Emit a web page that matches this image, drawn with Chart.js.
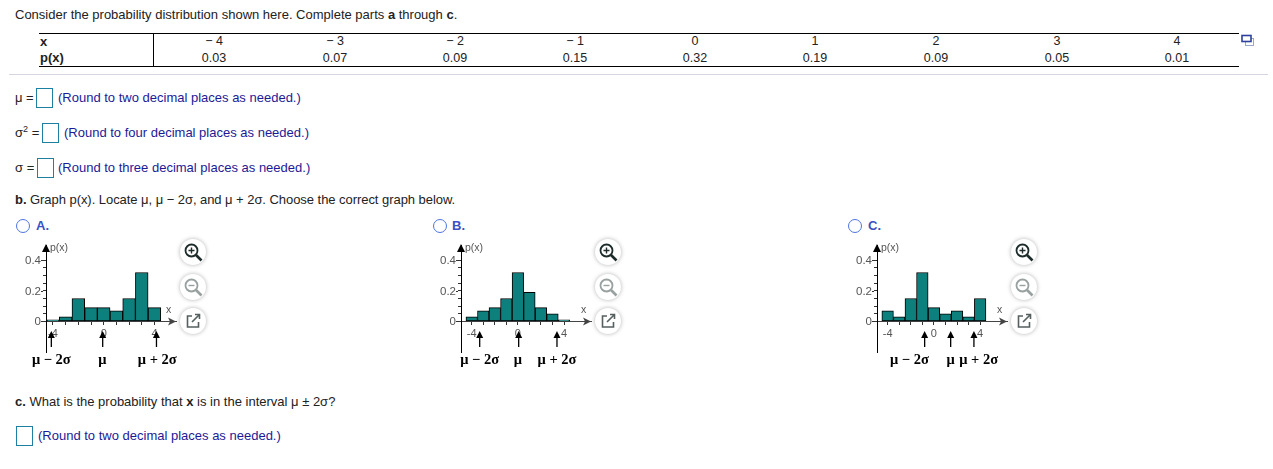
<!DOCTYPE html>
<html>
<head>
<meta charset="utf-8">
<script src="https://cdn.jsdelivr.net/npm/chart.js@4"></script>
<style>
html, body { margin: 0; padding: 0; background: #fff; }
body { position: relative; width: 1273px; height: 469px; overflow: hidden; font: 13px "Liberation Sans", Arial, sans-serif; color: #222; }
.t { position: absolute; white-space: nowrap; line-height: 16px; }
.hint { color: #1c1a96; }
.box { position: absolute; border: 1.5px solid #1f7fa3; box-sizing: border-box; width: 17px; height: 20px; background: #fff; }
.rule { position: absolute; background: #000; }
.cell { position: absolute; transform: translateX(-50%); white-space: nowrap; line-height: 14px; font-size: 12.5px; }
.radio { position: absolute; width: 14px; height: 14px; border: 1.5px solid #4f74e3; border-radius: 50%; box-sizing: border-box; }
.choice { position: absolute; font-weight: bold; color: #3d50c4; line-height: 16px; }
canvas { position: absolute; }
.icon { position: absolute; width: 26px; height: 26px; border-radius: 50%; background: #fff; box-shadow: 0 0 4px rgba(0,0,0,.3); }
.icon svg { display: block; }
sup { font-size: 9px; line-height: 0; }
</style>
</head>
<body>

<div class="t" style="left:15px;top:7px">Consider the probability distribution shown here. Complete parts <b>a</b> through <b>c</b>.</div>

<div class="rule" style="left:39px;top:33px;width:1200px;height:1px"></div>
<div class="rule" style="left:39px;top:66px;width:1200px;height:1px"></div>
<div class="rule" style="left:153px;top:33px;width:1px;height:34px"></div>
<div class="t" style="left:40px;top:34px"><b>x</b></div>
<div class="t" style="left:40px;top:50px"><b>p(x)</b></div>
<div class="rule" style="left:9px;top:74px;width:1259px;height:1px;background:#d5d6e2"></div>
<div id="tableCells"></div>

<svg style="position:absolute;left:1241px;top:34px" width="14" height="14">
  <rect x="4.5" y="4.5" width="8" height="7" fill="none" stroke="#9aa6d0"/>
  <rect x="1" y="1.5" width="9" height="6" fill="#fff" stroke="#2f3f9e" stroke-width="1.6"/>
</svg>

<div class="t" style="left:15px;top:90px">μ =</div>
<div class="box" style="left:36px;top:88px"></div>
<div class="t hint" style="left:58px;top:90px">(Round to two decimal places as needed.)</div>

<div class="t" style="left:15px;top:125px">σ<sup>2</sup> =</div>
<div class="box" style="left:42px;top:123px"></div>
<div class="t hint" style="left:64px;top:125px">(Round to four decimal places as needed.)</div>

<div class="t" style="left:15px;top:160px">σ =</div>
<div class="box" style="left:37px;top:158px"></div>
<div class="t hint" style="left:58px;top:160px">(Round to three decimal places as needed.)</div>

<div class="t" style="left:15px;top:192px;letter-spacing:-0.05px"><b>b.</b> Graph p(x). Locate μ, μ − 2σ, and μ + 2σ. Choose the correct graph below.</div>

<div class="radio" style="left:16px;top:219px"></div><div class="choice" style="left:36px;top:218px">A.</div>
<div class="radio" style="left:433px;top:219px"></div><div class="choice" style="left:452px;top:218px">B.</div>
<div class="radio" style="left:848px;top:219px"></div><div class="choice" style="left:868px;top:218px">C.</div>

<canvas id="chartA" width="165" height="132" style="left:16px;top:240px"></canvas>
<canvas id="chartB" width="165" height="132" style="left:431px;top:240px"></canvas>
<canvas id="chartC" width="165" height="132" style="left:847px;top:240px"></canvas>
<div id="iconRows"></div>

<div class="t" style="left:15px;top:394px"><b>c.</b> What is the probability that <b>x</b> is in the interval μ ± 2σ?</div>
<div class="box" style="left:16px;top:426px"></div>
<div class="t hint" style="left:38px;top:428px">(Round to two decimal places as needed.)</div>

<script>
const xValues = [-4, -3, -2, -1, 0, 1, 2, 3, 4];
const xText = ['− 4', '− 3', '− 2', '− 1', '0', '1', '2', '3', '4'];
const pValues = ['0.03', '0.07', '0.09', '0.15', '0.32', '0.19', '0.09', '0.05', '0.01'];

const barsA = [0.01, 0.03, 0.15, 0.09, 0.09, 0.07, 0.15, 0.32, 0.09];
const barsB = [0.03, 0.07, 0.09, 0.15, 0.32, 0.19, 0.09, 0.05, 0.01];
const barsC = [0.07, 0.03, 0.15, 0.32, 0.09, 0.05, 0.07, 0.03, 0.15];

const arrowsA = [-4.13, -0.08, 4.16];
const arrowsB = [-3.31, 0.07, 3.39];
const arrowsC = [-0.8, 1.45, 3.46];

const captions = ['μ − 2σ', 'μ', 'μ + 2σ'];
const captionsA = [-4.13, -0.1, 4.22];
const captionsB = [-3.31, 0, 3.39];
const captionsC = [-2.12, 1.45, 3.87];

const xRangeA = [-4.55, 5.7];
const xRangeB = [-4.93, 6.34];
const xRangeC = [-4.92, 6.32];

const xTickLabels = [-4, 0, 4];
const yTicks = [0, 0.05, 0.1, 0.15, 0.2, 0.25, 0.3, 0.35, 0.4];
const yTickLabels = [0, 0.2, 0.4];

const columnCenters = [214, 335, 455, 575, 695, 815, 936, 1057, 1177];

// tabla de arriba
const tableCells = document.getElementById('tableCells');
xValues.forEach((x, i) => {
    tableCells.innerHTML += `<div class="cell" style="left:${columnCenters[i]}px;top:34px">${xText[i]}</div>`;
    tableCells.innerHTML += `<div class="cell" style="left:${columnCenters[i]}px;top:51px">${pValues[i]}</div>`;
});

// flechas, textos y puntas de los ejes
const extrasPlugin = {
    id: 'extras',
    afterDraw(chart, args, opts) {
        const { ctx, scales: { x, y } } = chart;
        const x0 = x.getPixelForValue(opts.range[0]);
        const x1 = x.getPixelForValue(opts.range[1]);
        const y0 = Math.round(y.getPixelForValue(0));
        ctx.save();

        // etiquetas y marcas mayores del eje y
        ctx.strokeStyle = '#333';
        ctx.fillStyle = '#555';
        ctx.lineWidth = 1;
        ctx.font = '11.5px "Liberation Sans"';
        ctx.textAlign = 'right';
        ctx.textBaseline = 'middle';
        yTickLabels.forEach(v => {
            const py = Math.round(y.getPixelForValue(v)) + 0.5;
            ctx.beginPath();
            ctx.moveTo(Math.round(x0) - 5, py);
            ctx.lineTo(Math.round(x0) - 3, py);
            ctx.stroke();
            ctx.fillText(String(v), Math.round(x0) - 5, py);
        });

        // punta eje y
        ctx.fillStyle = '#000';
        const top = y.getPixelForValue(0.5);
        ctx.beginPath();
        ctx.moveTo(x0, top - 1);
        ctx.lineTo(x0 - 4, top + 7);
        ctx.lineTo(x0 + 4, top + 7);
        ctx.fill();

        // punta eje x
        ctx.fillStyle = '#444';
        ctx.beginPath();
        ctx.moveTo(x1, y0 + 0.5);
        ctx.lineTo(x1 - 8, y0 - 3.5);
        ctx.lineTo(x1 - 6, y0 + 0.5);
        ctx.lineTo(x1 - 8, y0 + 4.5);
        ctx.fill();

        // etiquetas de los ejes
        ctx.fillStyle = '#555';
        ctx.font = '10.5px "Liberation Sans"';
        ctx.textAlign = 'left';
        ctx.fillText('p(x)', x0 + 4, top + 3);
        ctx.fillText('x', x1 - 10, y0 - 11);

        // flechas mu y sigma
        ctx.strokeStyle = '#000';
        ctx.fillStyle = '#000';
        ctx.lineWidth = 1.3;
        opts.arrows.forEach(v => {
            const px = x.getPixelForValue(v);
            ctx.beginPath();
            ctx.moveTo(px, y0 + 26);
            ctx.lineTo(px, y0 + 14);
            ctx.stroke();
            ctx.beginPath();
            ctx.moveTo(px, y0 + 10);
            ctx.lineTo(px - 3.5, y0 + 17);
            ctx.lineTo(px + 3.5, y0 + 17);
            ctx.fill();
        });

        ctx.font = 'bold 14.5px "Liberation Serif"';
        ctx.textAlign = 'center';
        opts.captions.forEach((v, i) => {
            ctx.fillText(captions[i], x.getPixelForValue(v), y0 + 39);
        });
        ctx.restore();
    }
};

const makeChart = (id, bars, range, arrows, captionX) => new Chart(document.getElementById(id), {
    type: 'bar',
    data: {
        datasets: [{
            data: xValues.map((x, i) => ({ x: x, y: bars[i] })),
            backgroundColor: '#0d7f7d',
            borderColor: '#000',
            borderWidth: 1,
            borderSkipped: false,
            barPercentage: 1,
            categoryPercentage: 1
        }]
    },
    options: {
        responsive: false,
        animation: false,
        layout: { padding: { left: 30, right: 5, top: 5, bottom: 20 } },
        plugins: {
            legend: { display: false },
            tooltip: { enabled: false },
            extras: { range: range, arrows: arrows, captions: captionX }
        },
        scales: {
            x: {
                type: 'linear',
                offset: false,
                min: range[0],
                max: range[1],
                position: { y: 0 },
                afterBuildTicks: scale => { scale.ticks = xValues.map(v => ({ value: v })); },
                grid: { offset: false, drawOnChartArea: false, tickLength: 3, tickColor: '#333' },
                border: { color: '#444' },
                ticks: {
                    autoSkip: false,
                    maxRotation: 0,
                    padding: 3,
                    color: '#555',
                    font: { family: 'Liberation Sans', size: 11 },
                    callback: v => xTickLabels.includes(v) ? String(v) : ''
                }
            },
            y: {
                min: -0.2,
                max: 0.5,
                position: { x: range[0] },
                afterBuildTicks: scale => { scale.ticks = yTicks.map(v => ({ value: v })); },
                grid: { drawOnChartArea: false, tickLength: 3, tickColor: '#333' },
                border: { color: '#000' },
                ticks: { display: false }
            }
        }
    },
    plugins: [extrasPlugin]
});

makeChart('chartA', barsA, xRangeA, arrowsA, captionsA);
makeChart('chartB', barsB, xRangeB, arrowsB, captionsB);
makeChart('chartC', barsC, xRangeC, arrowsC, captionsC);

// botones de zoom de cada grafica
const plusIcon = c => `<svg width="26" height="26"><circle cx="11.5" cy="11.5" r="6" fill="none" stroke="${c}" stroke-width="1.8"/><path d="M16 16l5.5 5.5" stroke="${c}" stroke-width="2.6"/><path d="M8.5 11.5h6M11.5 8.5v6" stroke="${c}" stroke-width="1.4"/></svg>`;
const minusIcon = c => `<svg width="26" height="26"><circle cx="11.5" cy="11.5" r="6" fill="none" stroke="${c}" stroke-width="1.8"/><path d="M16 16l5.5 5.5" stroke="${c}" stroke-width="2.6"/><path d="M8.5 11.5h6" stroke="${c}" stroke-width="1.4"/></svg>`;
const popIcon = c => `<svg width="26" height="26"><path d="M12 8H7.5v11h11v-5" fill="none" stroke="${c}" stroke-width="1.6"/><path d="M12 14l7-7M15 6.5h4.5V11" fill="none" stroke="${c}" stroke-width="1.6"/></svg>`;
const iconColumns = [180, 595, 1011];
const iconRows = document.getElementById('iconRows');
iconColumns.forEach(left => {
    iconRows.innerHTML += `<div class="icon" style="left:${left}px;top:239px">${plusIcon('#1d2b2b')}</div>`;
    iconRows.innerHTML += `<div class="icon" style="left:${left}px;top:274px">${minusIcon('#98a0a0')}</div>`;
    iconRows.innerHTML += `<div class="icon" style="left:${left}px;top:308px">${popIcon('#56605f')}</div>`;
});
</script>
</body>
</html>
